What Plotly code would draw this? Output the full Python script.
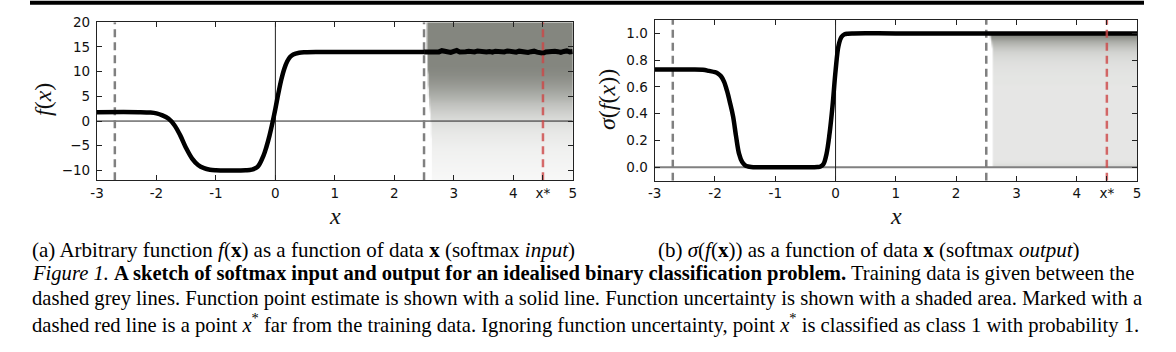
import plotly.graph_objects as go

W, H = 1176, 352

# ---------------- data ----------------
# f(x): smooth point estimate
x_f = [-3.0, -2.3, -2.1, -2.0, -1.9, -1.8, -1.7, -1.6, -1.5, -1.4, -1.3, -1.2, -1.1,
       -1.0, -0.8, -0.6, -0.5, -0.4, -0.3, -0.2, -0.15, -0.1, -0.05, 0.0, 0.05, 0.1,
       0.15, 0.2, 0.25, 0.3, 0.4, 0.5, 0.7, 1.5, 2.5]
f_vals = [1.8, 1.8, 1.72, 1.55, 1.15, 0.5, -0.8, -2.9, -5.5, -7.6, -8.9, -9.55, -9.85,
          -9.95, -10.0, -10.0, -9.97, -9.85, -9.3, -7.0, -5.2, -3.0, -0.4, 2.5, 5.6, 8.4,
          10.6, 12.1, 13.0, 13.5, 13.85, 13.95, 14.0, 14.0, 14.0]
# f(x): noisy estimate away from the training data
x_f_noisy = [2.50, 2.55, 2.60, 2.65, 2.70, 2.75, 2.80, 2.85, 2.90, 2.95, 3.00,
             3.05, 3.10, 3.15, 3.20, 3.25, 3.30, 3.35, 3.40, 3.45, 3.50,
             3.55, 3.60, 3.65, 3.70, 3.75, 3.80, 3.85, 3.90, 3.95, 4.00,
             4.05, 4.10, 4.15, 4.20, 4.25, 4.30, 4.35, 4.40, 4.45, 4.50,
             4.55, 4.60, 4.65, 4.70, 4.75, 4.80, 4.85, 4.90, 4.95, 5.00]
f_noisy = [14.0, 14.0, 14.1, 14.05, 13.85, 14.0, 14.25, 14.15, 13.95, 13.9, 14.1,
           14.3, 14.0, 13.9, 14.05, 14.15, 13.95, 14.0, 14.2, 14.1, 13.9,
           14.0, 14.1, 13.95, 14.15, 14.05, 13.9, 14.0, 14.2, 14.1, 14.0,
           13.95, 14.15, 14.0, 14.1, 13.9, 14.05, 14.15, 13.95, 13.8, 13.75,
           14.0, 14.1, 13.95, 14.15, 14.05, 13.9, 14.1, 14.2, 14.0, 14.1]

# sigma(f(x))
x_s = [-3.0, -2.4, -2.2, -2.1, -2.0, -1.95, -1.9, -1.85, -1.8, -1.75, -1.7, -1.65,
       -1.6, -1.55, -1.5, -1.45, -1.4, -1.3, -1.0, -0.5, -0.3, -0.25, -0.2, -0.15,
       -0.1, -0.05, 0.0, 0.05, 0.1, 0.15, 0.2, 0.3, 1.0, 2.5, 5.0]
s_vals = [0.73, 0.73, 0.728, 0.72, 0.71, 0.70, 0.68, 0.64, 0.57, 0.48, 0.38, 0.23,
          0.10, 0.04, 0.015, 0.006, 0.002, 0.0, 0.0, 0.0, 0.002, 0.006, 0.025, 0.10,
          0.25, 0.46, 0.72, 0.91, 0.975, 0.993, 0.998, 1.0, 1.0, 1.0, 1.0]

train_lo, train_hi = -2.7, 2.5
x_star = 4.5

x_tickvals = [-3, -2, -1, 0, 1, 2, 3, 4, 4.5, 5]
x_ticktext = ['-3', '-2', '-1', '0', '1', '2', '3', '4', 'x*', '5']
f_tickvals = [-10, -5, 0, 5, 10, 15, 20]
f_ticktext = ['\u221210', '\u22125', '0', '5', '10', '15', '20']
s_tickvals = [0.0, 0.2, 0.4, 0.6, 0.8, 1.0]
s_ticktext = ['0.0', '0.2', '0.4', '0.6', '0.8', '1.0']

# uncertainty shading (density of sampled points, 0 = none, 1 = dense), per row
shade_f_rows = [-11.5, -10.5, -9.5, -8.5, -7.5, -6.5, -5.5, -4.5, -3.5, -2.5, -1.5, -0.5,
                0.5, 1.5, 2.5, 3.5, 4.5, 5.5, 6.5, 7.5, 8.5, 9.5, 10.5, 11.5, 12.5, 13.5,
                14.5, 15.5, 16.5, 17.5, 18.5, 19.5]
shade_f_density = [0.06, 0.07, 0.08, 0.09, 0.10, 0.11, 0.12, 0.14, 0.16, 0.18, 0.21, 0.25,
                   0.30, 0.36, 0.43, 0.50, 0.58, 0.66, 0.74, 0.81, 0.87, 0.92, 0.95, 0.97,
                   0.97, 0.97, 0.97, 0.97, 0.97, 0.97, 0.97, 0.97]
shade_f_edge = [2.62, 2.62, 2.62, 2.62, 2.62, 2.62, 2.62, 2.62, 2.62, 2.61, 2.61, 2.61,
                2.60, 2.60, 2.59, 2.58, 2.58, 2.57, 2.57, 2.56, 2.56, 2.56, 2.55, 2.55,
                2.55, 2.55, 2.54, 2.54, 2.54, 2.54, 2.54, 2.54]

shade_s_rows = [0.0125 + 0.025 * i for i in range(40)]
shade_s_density = [0.28, 0.22, 0.20, 0.20, 0.20, 0.20, 0.20, 0.20, 0.20, 0.20,
                   0.20, 0.20, 0.20, 0.20, 0.20, 0.20, 0.20, 0.20, 0.20, 0.20,
                   0.20, 0.20, 0.20, 0.20, 0.20, 0.21, 0.21, 0.21, 0.22, 0.23,
                   0.24, 0.26, 0.28, 0.31, 0.36, 0.43, 0.52, 0.65, 0.80, 0.95]
shade_s_edge = [2.60] * 36 + [2.59, 2.58, 2.57, 2.56]

shade_cols = [2.5125 + 0.025 * i for i in range(100)]

# ---------------- helpers ----------------
def px_x(p):
    return p / W

def px_y(p):
    return 1 - p / H

def shade_z(density, edges):
    z = []
    for d, e in zip(density, edges):
        row = []
        for xc in shade_cols:
            t = (xc - e) / 0.025 + 0.5
            t = max(0.0, min(1.0, t))
            row.append(d * t)
        z.append(row)
    return z

GREY_SCALE = [[0, 'rgb(255,255,255)'], [1, 'rgb(128,130,123)']]
DASH = '8px,5px'
RED = 'rgba(205,70,70,0.8)'
GREY = 'rgb(128,128,128)'

fig = go.Figure()

def panel(xa, ya, ylo, yhi, shade_rows, shade_density, shade_edge, zero_color, zero_width):
    fig.add_trace(go.Heatmap(x=shade_cols, y=shade_rows, z=shade_z(shade_density, shade_edge),
                             colorscale=GREY_SCALE, zmin=0, zmax=1, zsmooth='best',
                             showscale=False, hoverinfo='skip', xaxis=xa, yaxis=ya))
    fig.add_trace(go.Scatter(x=[-3, 5], y=[0, 0], mode='lines',
                             line=dict(color=zero_color, width=zero_width),
                             xaxis=xa, yaxis=ya, hoverinfo='skip'))
    fig.add_trace(go.Scatter(x=[0, 0], y=[ylo, yhi], mode='lines',
                             line=dict(color='#222', width=1),
                             xaxis=xa, yaxis=ya, hoverinfo='skip'))
    for xv in (train_lo, train_hi):
        fig.add_trace(go.Scatter(x=[xv, xv], y=[ylo, yhi], mode='lines',
                                 line=dict(color=GREY, width=2.5, dash=DASH),
                                 xaxis=xa, yaxis=ya, hoverinfo='skip'))

# ---------- left panel ----------
panel('x', 'y', -12, 20, shade_f_rows, shade_f_density, shade_f_edge, '#222', 1)
fig.add_trace(go.Scatter(x=x_f, y=f_vals, mode='lines',
                         line=dict(color='black', width=4.5, shape='spline', smoothing=1.0),
                         xaxis='x', yaxis='y', hoverinfo='skip'))
fig.add_trace(go.Scatter(x=x_f_noisy, y=f_noisy, mode='lines',
                         line=dict(color='black', width=5),
                         xaxis='x', yaxis='y', hoverinfo='skip'))
fig.add_trace(go.Scatter(x=[x_star, x_star], y=[-12, 20], mode='lines',
                         line=dict(color=RED, width=2.5, dash=DASH),
                         xaxis='x', yaxis='y', hoverinfo='skip'))

# ---------- right panel ----------
panel('x2', 'y2', -0.1, 1.1, shade_s_rows, shade_s_density, shade_s_edge, GREY, 2)
fig.add_trace(go.Scatter(x=x_s, y=s_vals, mode='lines',
                         line=dict(color='black', width=4.5, shape='spline', smoothing=1.0),
                         xaxis='x2', yaxis='y2', hoverinfo='skip'))
fig.add_trace(go.Scatter(x=[x_star, x_star], y=[-0.1, 1.1], mode='lines',
                         line=dict(color=RED, width=2.5, dash=DASH),
                         xaxis='x2', yaxis='y2', hoverinfo='skip'))

tickfont = dict(family='DejaVu Sans', size=13.5, color='#111')
axis_common = dict(showline=True, linecolor='#222', linewidth=1.3, mirror='ticks',
                   ticks='inside', ticklen=5, tickwidth=1, tickcolor='#222',
                   showgrid=False, zeroline=False, tickfont=tickfont, automargin=False,
                   tickmode='array')

fig.update_layout(
    width=W, height=H, margin=dict(l=0, r=0, t=0, b=0),
    paper_bgcolor='white', plot_bgcolor='white', showlegend=False,
    xaxis=dict(domain=[px_x(97), px_x(572.7)], range=[-3, 5], anchor='y',
               tickvals=x_tickvals, ticktext=x_ticktext, ticklabelstandoff=0, **axis_common),
    yaxis=dict(domain=[px_y(180.3), px_y(22.3)], range=[-12, 20], anchor='x',
               tickvals=f_tickvals, ticktext=f_ticktext, ticklabelstandoff=3, **axis_common),
    xaxis2=dict(domain=[px_x(654.7), px_x(1137)], range=[-3, 5], anchor='y2',
                tickvals=x_tickvals, ticktext=x_ticktext, ticklabelstandoff=0, **axis_common),
    yaxis2=dict(domain=[px_y(180.7), px_y(20)], range=[-0.1, 1.1], anchor='x2',
                tickvals=s_tickvals, ticktext=s_ticktext, ticklabelstandoff=3, **axis_common),
)

# top rule
fig.add_shape(type='rect', xref='paper', yref='paper', x0=px_x(30), x1=px_x(1144),
              y0=px_y(4.8), y1=px_y(0.8), fillcolor='black', line=dict(width=0))

serif = 'Liberation Serif'
math_font = dict(family=serif, size=24, color='#111')
sub_font = dict(family=serif, size=21, color='black')
cap_font = dict(family=serif, size=20.6, color='black')

def ann(text, x, y, font, xanchor='center', textangle=0):
    fig.add_annotation(text=text, x=px_x(x), y=px_y(y), xref='paper', yref='paper',
                       showarrow=False, xanchor=xanchor, yanchor='middle', font=font,
                       textangle=textangle)

ann('<i>f</i>(<i>x</i>)', 43, 100, math_font, textangle=-90)
ann('<i>\u03c3</i>(<i>f</i>(<i>x</i>))', 607, 100, math_font, textangle=-90)
ann('<i>x</i>', 335, 216, math_font)
ann('<i>x</i>', 896, 216, math_font)

ann('(a) Arbitrary function <i>f</i>(<b>x</b>) as a function of data <b>x</b> (softmax <i>input</i>)',
    303, 250, sub_font)
ann('(b) <i>\u03c3</i>(<i>f</i>(<b>x</b>)) as a function of data <b>x</b> (softmax <i>output</i>)',
    869, 250, sub_font)
ann('<i>Figure 1.</i> <b>A sketch of softmax input and output for an idealised binary classification problem.</b> Training data is given between the',
    30, 273, cap_font, xanchor='left')
ann('dashed grey lines. Function point estimate is shown with a solid line. Function uncertainty is shown with a shaded area. Marked with a',
    30, 298, cap_font, xanchor='left')
ann('dashed red line is a point <i>x</i><sup>*</sup> far from the training data. Ignoring function uncertainty, point <i>x</i><sup>*</sup> is classified as class 1 with probability 1.',
    30, 323, cap_font, xanchor='left')

fig.write_html('out.html')
